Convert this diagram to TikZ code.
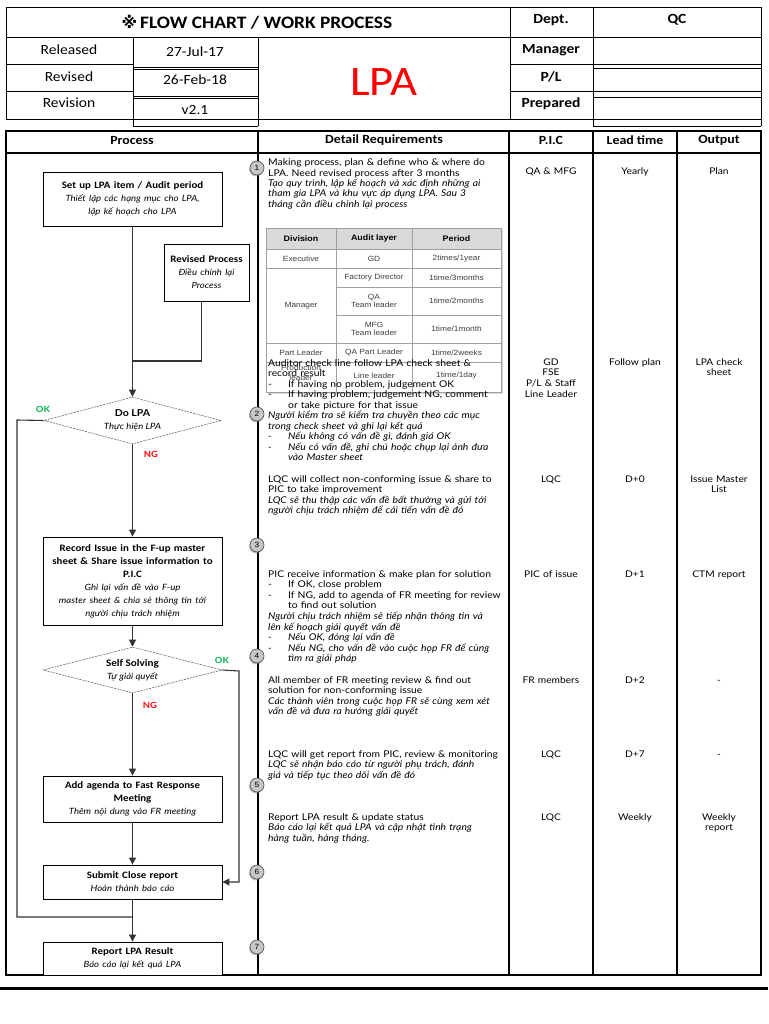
\documentclass[tikz,border=0pt]{standalone}
\usepackage{fontspec}
\setmainfont{Carlito}[FakeStretch=1.11]
\newfontfamily\lato{Lato}[FakeStretch=1.11]
\newfontfamily\dejavu{DejaVu Sans}
\newfontfamily\arial{Liberation Sans}[FakeStretch=1.11]
\usetikzlibrary{shapes.geometric,arrows.meta,shadows}
\definecolor{okgreen}{HTML}{00B050}
\definecolor{tblgray}{HTML}{A0A0A0}
\definecolor{tblhead}{HTML}{D9D9D9}
\definecolor{lnc}{HTML}{333333}
\newcommand\vi[1]{{\lato\mdseries\itshape\fontsize{8.6}{13}\selectfont #1}}
\newcommand\dbul{\makebox[20pt][l]{-}}
\newcommand\dind{\hspace*{20pt}}
\tikzset{
  hl/.style={draw=black, line width=0.9pt},
  tb/.style={draw=black, line width=1.2pt},
  hdtxt/.style={font=\fontsize{14}{16}\selectfont, inner sep=0pt},
  hdbold/.style={font=\bfseries\fontsize{14}{16}\selectfont, inner sep=0pt},
  colhead/.style={font=\bfseries\fontsize{12.5}{14}\selectfont, inner sep=0pt},
  fbox/.style={draw=black, line width=0.9pt, fill=white, minimum width=179pt, text width=175pt, align=center, inner sep=2pt, font=\bfseries\fontsize{9.8}{13}\selectfont},
  dia/.style={shape=diamond, draw=gray!80!black, line width=0.6pt, dash pattern=on 2pt off 1pt, fill=white, minimum width=177pt, minimum height=47pt, inner sep=0pt},
  diatxt/.style={font=\lato\bfseries\fontsize{9.5}{13}\selectfont, align=center, inner sep=0pt},
  arr/.style={draw=lnc, line width=1.1pt, -{Triangle[length=7pt,width=7pt]}},
  ln/.style={draw=lnc, line width=1.1pt},
  num/.style={circle, draw=black!70, line width=0.6pt, fill=black!22, minimum size=14pt, inner sep=0pt, font=\arial\fontsize{7.5}{7.5}\selectfont, drop shadow={opacity=0.45, shadow xshift=-1pt, shadow yshift=-1.5pt}},
  dtxt/.style={font=\lato\fontsize{9.3}{10.55}\selectfont, text width=245pt, align=left, inner sep=0pt, anchor=base west},
  ctxt/.style={font=\lato\fontsize{9.2}{10.8}\selectfont, text width=80pt, align=center, inner sep=0pt, anchor=base},
  tline/.style={draw=tblgray, line width=0.8pt},
  ttxt/.style={font=\arial\fontsize{7.5}{8.5}\selectfont, text=black!75, align=center, inner sep=0pt},
  tthead/.style={font=\arial\bfseries\fontsize{8}{9}\selectfont, align=center, inner sep=0pt},
  oklab/.style={font=\lato\bfseries\fontsize{8.5}{9}\selectfont, text=okgreen, inner sep=0pt},
  nglab/.style={font=\lato\bfseries\fontsize{8.5}{9}\selectfont, text=red, inner sep=0pt}
}
\begin{document}
\begin{tikzpicture}[x=1pt,y=-1pt]
\useasboundingbox (0,0) rectangle (768,1024);
\fill[white] (0,0) rectangle (768,1024);

% ---------------- header ----------------
\draw[hl] (6,7) -- (761,7);
\draw[hl] (6,37) -- (761,37);
\draw[hl] (6,119) -- (761,119);
\draw[hl] (6,7) -- (6,119);
\draw[hl] (510,7) -- (510,119);
\draw[hl] (593,7) -- (593,126);
\draw[hl] (761,7) -- (761,126);
\draw[hl] (133,37) -- (133,126);
\draw[hl] (258,37) -- (258,126);
\draw[hl] (6,64) -- (133,64);
\draw[hl] (6,91) -- (133,91);
\draw[hl] (133,67) -- (258,67);
\draw[hl] (133,69.5) -- (258,69.5);
\draw[hl] (133,96) -- (258,96);
\draw[hl] (133,98.5) -- (258,98.5);
\draw[hl] (133,126) -- (258,126);
\draw[hl] (510,64) -- (593,64);
\draw[hl] (510,91) -- (593,91);
\draw[hl] (593,64) -- (761,64);
\draw[hl] (593,68) -- (761,68);
\draw[hl] (593,91) -- (761,91);
\draw[hl] (593,97) -- (761,97);
\draw[hl] (593,126) -- (761,126);

\node[font=\bfseries\fontsize{17.5}{19}\selectfont, inner sep=0pt] (title) at (257,22) {{\dejavu\fontsize{16}{19}\selectfont ※}\,FLOW CHART / WORK PROCESS};
\node[hdbold] (dept) at (551,20) {Dept.};
\node[hdbold] (qc) at (677,20) {QC};
\node[hdtxt] (rel) at (69,50) {Released};
\node[hdtxt] (reld) at (195,52) {27-Jul-17};
\node[hdtxt] (rev) at (69,77) {Revised};
\node[hdtxt] (revd) at (195,80) {26-Feb-18};
\node[hdtxt] (revn) at (69,103) {Revision};
\node[hdtxt] (revv) at (195,110) {v2.1};
\node[hdbold] (mgr) at (551,50) {Manager};
\node[hdbold] (pl) at (551,77) {P/L};
\node[hdbold] (prep) at (551,104) {Prepared};
\node[font=\fontsize{42}{46}\selectfont, text=red, inner sep=0pt] (lpa) at (384,82) {LPA};

% ---------------- main table ----------------
\draw[tb] (6,131) rectangle (761,975);
\draw[tb] (6,153) -- (761,153);
\draw[draw=black, line width=2pt] (258,131) -- (258,975);
\draw[tb] (509,131) -- (509,975);
\draw[tb] (593,131) -- (593,975);
\draw[tb] (677,131) -- (677,975);
\draw[draw=black, line width=3pt] (0,988) -- (768,988);

\node[colhead] (hproc) at (132,140) {Process};
\node[colhead] (hdet) at (384,140) {Detail Requirements};
\node[colhead] (hpic) at (551,140) {P.I.C};
\node[colhead] (hlead) at (635,140) {Lead time};
\node[colhead] (hout) at (719,140) {Output};

% ---------------- inner LPA table ----------------
\fill[black!15] (268,230) rectangle (503,394);
\fill[white] (266,228) rectangle (501,392);
\fill[tblhead] (266,228) rectangle (501,249);
\draw[tline] (266,228) rectangle (501,392);
\draw[tline] (336,228) -- (336,392);
\draw[tline] (412,228) -- (412,392);
\draw[tline] (266,249) -- (501,249);
\draw[tline] (266,268) -- (501,268);
\draw[tline] (336,287) -- (501,287);
\draw[tline] (336,315) -- (501,315);
\draw[tline] (266,343) -- (501,343);
\draw[tline] (266,362) -- (501,362);
\node[tthead] (th1) at (301,238.5) {Division};
\node[tthead] (th2) at (374,238.5) {Audit layer};
\node[tthead] (th3) at (456.5,238.5) {Period};
\node[ttxt] (tc11) at (301,258.5) {Executive};
\node[ttxt] (tc12) at (374,258.5) {GD};
\node[ttxt] (tc13) at (456.5,258.5) {2times/1year};
\node[ttxt] (tc21) at (301,305.5) {Manager};
\node[ttxt] (tc22) at (374,277.5) {Factory Director};
\node[ttxt] (tc23) at (456.5,277.5) {1time/3months};
\node[ttxt] (tc32) at (374,301) {QA\\Team leader};
\node[ttxt] (tc33) at (456.5,301) {1time/2months};
\node[ttxt] (tc42) at (374,329) {MFG\\Team leader};
\node[ttxt] (tc43) at (456.5,329) {1time/1month};
\node[ttxt] (tc51) at (301,352.5) {Part Leader};
\node[ttxt] (tc52) at (374,352.5) {QA Part Leader};
\node[ttxt] (tc53) at (456.5,352.5) {1time/2weeks};
\node[ttxt, font=\arial\fontsize{7.5}{10}\selectfont] (tc61) at (301,373) {Production\\leader};
\node[ttxt] (tc62) at (374,376) {Line leader};
\node[ttxt] (tc63) at (456.5,376) {1time/1day};

% ---------------- detail text ----------------
\node[dtxt, font=\lato\fontsize{9.3}{10.3}\selectfont] (d1) at (268,166) {Making process, plan \& define who \& where do\\
LPA. Need revised process after 3 months\\
\itshape Tạo quy trình, lập kế hoạch và xác định những ai\\
tham gia LPA và khu vực áp dụng LPA. Sau 3\\
tháng cần điều chỉnh lại process};

\node[dtxt] (d2) at (268,366) {Auditor check line follow LPA check sheet \&\\
record result\\
\dbul If having no problem, judgement OK\\
\dbul If having problem, judgement NG, comment\\
\dind or take picture for that issue\\
{\itshape Người kiểm tra sẽ kiểm tra chuyền theo các mục\\
trong check sheet và ghi lại kết quả\\
\dbul Nếu không có vấn đề gì, đánh giá OK\\
\dbul Nếu có vấn đề, ghi chú hoặc chụp lại ảnh đưa\\
\dind vào Master sheet}\\[10.55pt]
LQC will collect non-conforming issue \& share to\\
PIC to take improvement\\
\itshape LQC sẽ thu thập các vấn đề bất thường và gửi tới\\
người chịu trách nhiệm để cải tiến vấn đề đó};

\node[dtxt, font=\lato\fontsize{9.3}{10.6}\selectfont] (d3) at (268,577) {PIC receive information \& make plan for solution\\
\dbul If OK, close problem\\
\dbul If NG, add to agenda of FR meeting for review\\
\dind to find out solution\\
{\itshape Người chịu trách nhiệm sẽ tiếp nhận thông tin và\\
lên kế hoạch giải quyết vấn đề\\
\dbul Nếu OK, đóng lại vấn đề\\
\dbul Nếu NG, cho vấn đề vào cuộc họp FR để cùng\\
\dind tìm ra giải pháp}\\[10.6pt]
All member of FR meeting review \& find out\\
solution for non-conforming issue\\
\itshape Các thành viên trong cuộc họp FR sẽ cùng xem xét\\
vấn đề và đưa ra hướng giải quyết};

\node[dtxt] (d4) at (268,757) {LQC will get report from PIC, review \& monitoring\\
\itshape LQC sẽ nhận báo cáo từ người phụ trách, đánh\\
giá và tiếp tục theo dõi vấn đề đó};

\node[dtxt] (d5) at (268,820) {Report LPA result \& update status\\
\itshape Báo cáo lại kết quả LPA và cập nhật tình trạng\\
hàng tuần, hàng tháng.};

% ---------------- PIC / Lead time / Output ----------------
\node[ctxt] (p1) at (551,175) {QA \& MFG};
\node[ctxt] (l1) at (635,175) {Yearly};
\node[ctxt] (o1) at (719,175) {Plan};
\node[ctxt] (p2) at (551,365) {GD\\FSE\\P/L \& Staff\\Line Leader};
\node[ctxt] (l2) at (635,365) {Follow plan};
\node[ctxt] (o2) at (719,365) {LPA check\\sheet};
\node[ctxt] (p3) at (551,482) {LQC};
\node[ctxt] (l3) at (635,482) {D+0};
\node[ctxt] (o3) at (719,482) {Issue Master\\List};
\node[ctxt] (p4) at (551,577) {PIC of issue};
\node[ctxt] (l4) at (635,577) {D+1};
\node[ctxt] (o4) at (719,577) {CTM report};
\node[ctxt] (p5) at (551,683) {FR members};
\node[ctxt] (l5) at (635,683) {D+2};
\node[ctxt] (o5) at (719,683) {-};
\node[ctxt] (p6) at (551,757) {LQC};
\node[ctxt] (l6) at (635,757) {D+7};
\node[ctxt] (o6) at (719,757) {-};
\node[ctxt] (p7) at (551,820) {LQC};
\node[ctxt] (l7) at (635,820) {Weekly};
\node[ctxt] (o7) at (719,820) {Weekly\\report};

% ---------------- flowchart ----------------
\coordinate (j1) at (132.5,361);
\coordinate (j2) at (132.5,917);
\coordinate (okl) at (17,420);
\coordinate (okr) at (239,671);

\node[fbox, minimum height=54pt] (setup) at (132.5,199) {Set up LPA item / Audit period\\ \vi{Thiết lập các hạng mục cho LPA,\\ lập kế hoạch cho LPA}};
\node[fbox, minimum width=85pt, text width=81pt, minimum height=57pt] (revised) at (206.5,272.5) {Revised Process\\ \vi{Điều chỉnh lại\\ Process}};
\node[dia] (dolpa) at (132.5,420.5) {};
\node[diatxt] (dolpat) at (132.5,420) {Do LPA\\ \vi{Thực hiện LPA}};
\node[fbox, minimum height=88pt] (record) at (132.5,581) {Record Issue in the F-up master\\ sheet \& Share issue information to\\ P.I.C\\ \vi{Ghi lại vấn đề vào F-up\\ master sheet \& chia sẻ thông tin tới\\ người chịu trách nhiệm}};
\node[dia, minimum width=179pt, minimum height=46pt] (self) at (132.5,670) {};
\node[diatxt, font=\bfseries\fontsize{10}{13}\selectfont] (selft) at (132.5,670) {Self Solving\\ \vi{Tự giải quyết}};
\node[fbox, minimum height=46pt] (agenda) at (132.5,799) {Add agenda to Fast Response\\ Meeting\\ \vi{Thêm nội dung vào FR meeting}};
\node[fbox, minimum height=34pt] (submit) at (132.5,882) {Submit Close report\\ \vi{Hoàn thành báo cáo}};
\node[fbox, minimum height=33pt] (report) at (132.5,958.5) {Report LPA Result\\ \vi{Báo cáo lại kết quả LPA}};

\draw[arr] (setup.south) -- (dolpa.north);
\draw[ln] ([xshift=-5pt]revised.south) |- (j1);
\draw[arr] (dolpa.south) -- (record.north);
\draw[ln] (dolpa.west) -- (okl) |- (j2);
\draw[arr] (record.south) -- (self.north);
\draw[arr] (self.south) -- (agenda.north);
\draw[arr] (self.east) -- (okr) |- (submit.east);
\draw[arr] (agenda.south) -- (submit.north);
\draw[arr] (submit.south) -- (report.north);

\node[oklab] (ok1) at (43,409) {OK};
\node[nglab] (ng1) at (151,454) {NG};
\node[oklab] (ok2) at (222,660) {OK};
\node[nglab] (ng2) at (150,705) {NG};

% ---------------- step numbers ----------------
\node[num] (n1) at (257,168) {1};
\node[num] (n2) at (257,414) {2};
\node[num] (n3) at (257,545) {3};
\node[num] (n4) at (257,656) {4};
\node[num] (n5) at (257,785) {5};
\node[num] (n6) at (257,872) {6};
\node[num] (n7) at (257,947) {7};
\end{tikzpicture}
\end{document}
